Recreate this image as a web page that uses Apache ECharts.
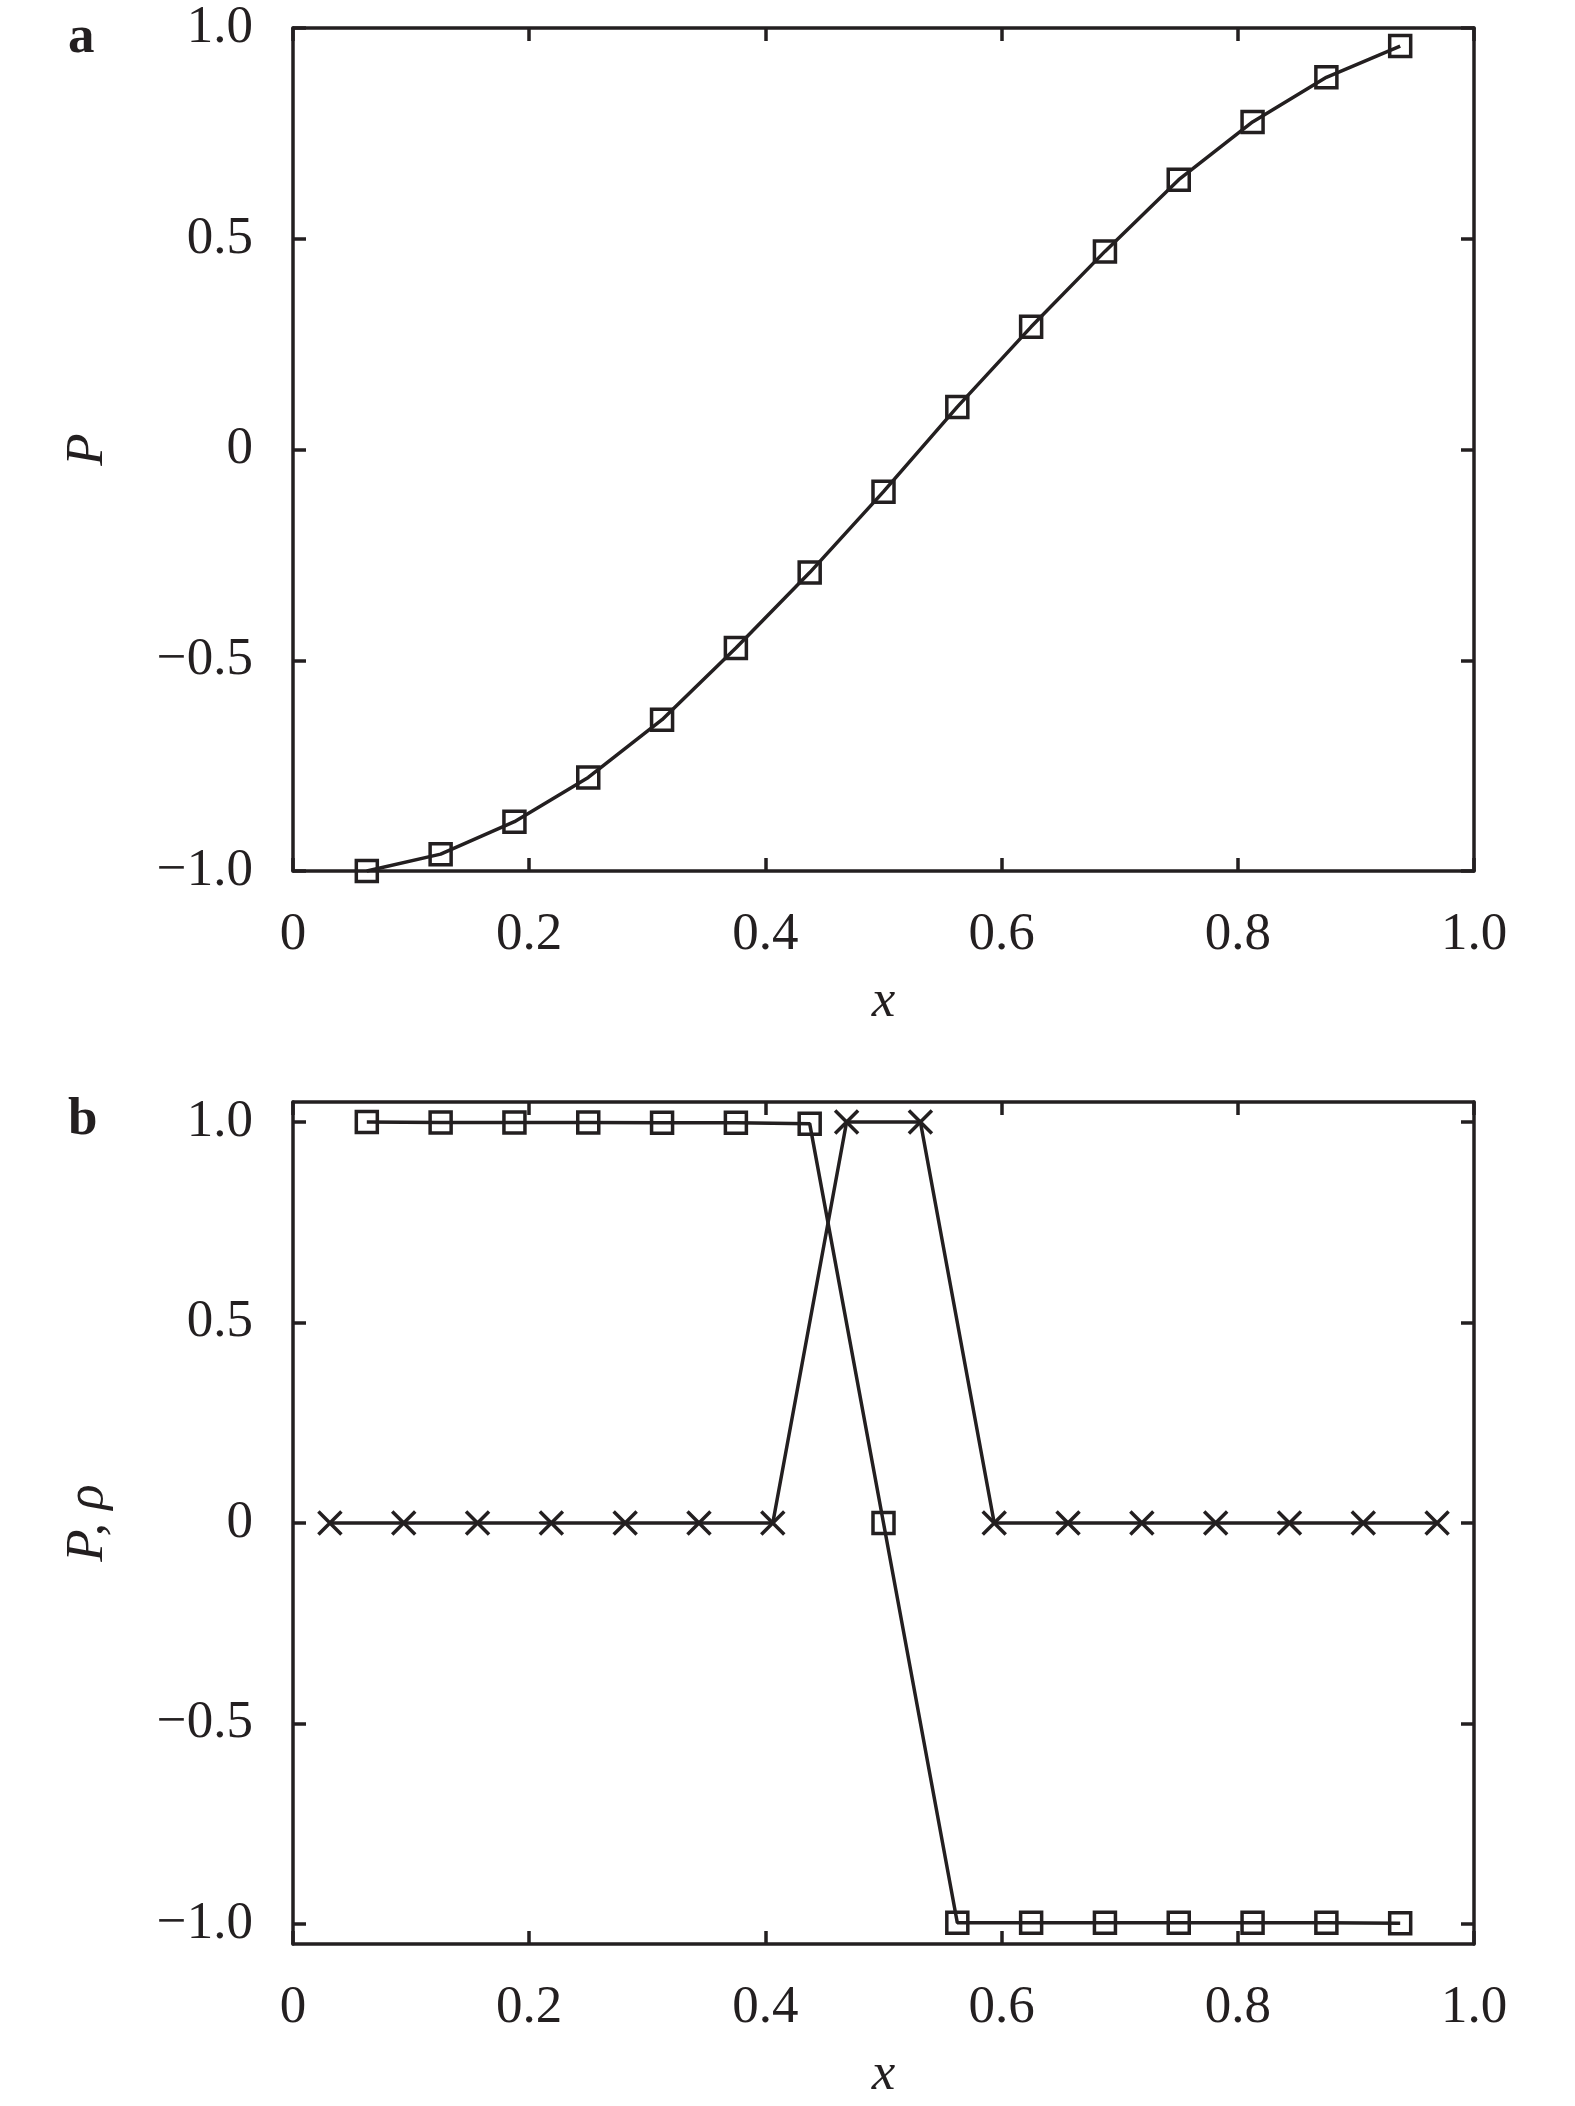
<!DOCTYPE html>
<html>
<head>
<meta charset="utf-8">
<script src="https://cdn.jsdelivr.net/npm/echarts@6/dist/echarts.min.js"></script>
<style>
  html, body { margin: 0; padding: 0; background: #fff; }
  #main { width: 1575px; height: 2106px; }
</style>
</head>
<body>
<div id="main"></div>
<script>
// data points (x in 16ths / 32nds)
const xSquares = [0.0625, 0.125, 0.1875, 0.25, 0.3125, 0.375, 0.4375, 0.5, 0.5625, 0.625, 0.6875, 0.75, 0.8125, 0.875, 0.9375]
const pA = [-1.0, -0.960, -0.883, -0.778, -0.641, -0.471, -0.292, -0.100, 0.101, 0.291, 0.470, 0.640, 0.777, 0.883, 0.957]
const pB = [1.0, 0.999, 0.999, 0.999, 0.998, 0.998, 0.996, 0.0, -0.997, -0.997, -0.997, -0.997, -0.997, -0.997, -0.998]
const xCrosses = [0.03125, 0.09375, 0.15625, 0.21875, 0.28125, 0.34375, 0.40625, 0.46875, 0.53125, 0.59375, 0.65625, 0.71875, 0.78125, 0.84375, 0.90625, 0.96875]
const rhoB = [0, 0, 0, 0, 0, 0, 0, 1, 1, 0, 0, 0, 0, 0, 0, 0]
const yTicks = [-1, -0.5, 0, 0.5, 1]

const ink = '#231f20'
const font = 'Liberation Serif'
const fs = 53

const sqPath = 'path://M0,0L10,0L10,10L0,10Z'
const xPath = 'path://M0,0L10,10M10,0L0,10'

function fmt(v) {
    if (Math.abs(v) < 1e-9) return '0'
    return (v < 0 ? '\u2212' : '') + Math.abs(v).toFixed(1)
}

function pairs(xs, ys) {
    return xs.map((x, i) => [x, ys[i]])
}

function xAx(grid, pos, withLabel) {
    return {
        gridIndex: grid, type: 'value', position: pos, min: 0, max: 1, interval: 0.2,
        axisLine: { show: true, onZero: false, lineStyle: { color: ink, width: 3.5 } },
        axisTick: { show: true, inside: true, length: 13, lineStyle: { color: ink, width: 3.5 } },
        axisLabel: { show: withLabel, margin: 38, fontSize: fs, fontFamily: font, color: ink, formatter: fmt },
        splitLine: { show: false },
        name: withLabel ? 'x' : '', nameLocation: 'middle', nameGap: 105,
        nameTextStyle: { fontSize: fs, fontFamily: font, fontStyle: 'italic', color: ink }
    }
}

function yAx(grid, pos, withLabel, name, lo, hi) {
    return {
        gridIndex: grid, type: 'value', position: pos, min: lo, max: hi,
        axisLine: { show: true, onZero: false, lineStyle: { color: ink, width: 3.5 } },
        axisTick: { show: true, inside: true, length: 13, lineStyle: { color: ink, width: 3.5 }, customValues: yTicks },
        axisLabel: { show: withLabel, margin: 40, fontSize: fs, fontFamily: font, color: ink, formatter: fmt, customValues: yTicks },
        splitLine: { show: false },
        name: withLabel ? name : '', nameLocation: 'middle', nameGap: 178,
        nameTextStyle: { fontSize: fs, fontFamily: font, fontStyle: 'italic', color: ink }
    }
}

function sqSeries(xi, yi, data) {
    return {
        type: 'line', xAxisIndex: xi, yAxisIndex: yi, data: data, clip: false,
        symbol: sqPath, symbolSize: 21,
        itemStyle: { color: 'transparent', borderColor: ink, borderWidth: 3.5 },
        lineStyle: { color: ink, width: 3.5 }
    }
}

let myChart = echarts.init(document.getElementById('main'))
let option = {
    animation: false,
    backgroundColor: '#fff',
    grid: [
        { left: 293, top: 28, width: 1181, height: 843 },
        { left: 293, top: 1102, width: 1181, height: 842 }
    ],
    xAxis: [xAx(0, 'bottom', true), xAx(0, 'top', false), xAx(1, 'bottom', true), xAx(1, 'top', false)],
    yAxis: [
        yAx(0, 'left', true, 'P', -1, 1), yAx(0, 'right', false, '', -1, 1),
        yAx(1, 'left', true, 'P, \u03c1', -1.05, 1.05), yAx(1, 'right', false, '', -1.05, 1.05)
    ],
    graphic: [
        { type: 'text', left: 68, top: 12, style: { text: 'a', fontSize: fs, fontWeight: 'bold', fontFamily: font, fill: ink } },
        { type: 'text', left: 68, top: 1094, style: { text: 'b', fontSize: fs, fontWeight: 'bold', fontFamily: font, fill: ink } }
    ],
    series: [
        sqSeries(0, 0, pairs(xSquares, pA)),
        sqSeries(2, 2, pairs(xSquares, pB)),
        {
            type: 'line', xAxisIndex: 2, yAxisIndex: 2, data: pairs(xCrosses, rhoB), clip: false,
            symbol: xPath, symbolSize: 23,
            itemStyle: { color: 'transparent', borderColor: ink, borderWidth: 3.5 },
            lineStyle: { color: ink, width: 3.5 }
        }
    ]
}
myChart.setOption(option)
</script>
</body>
</html>
